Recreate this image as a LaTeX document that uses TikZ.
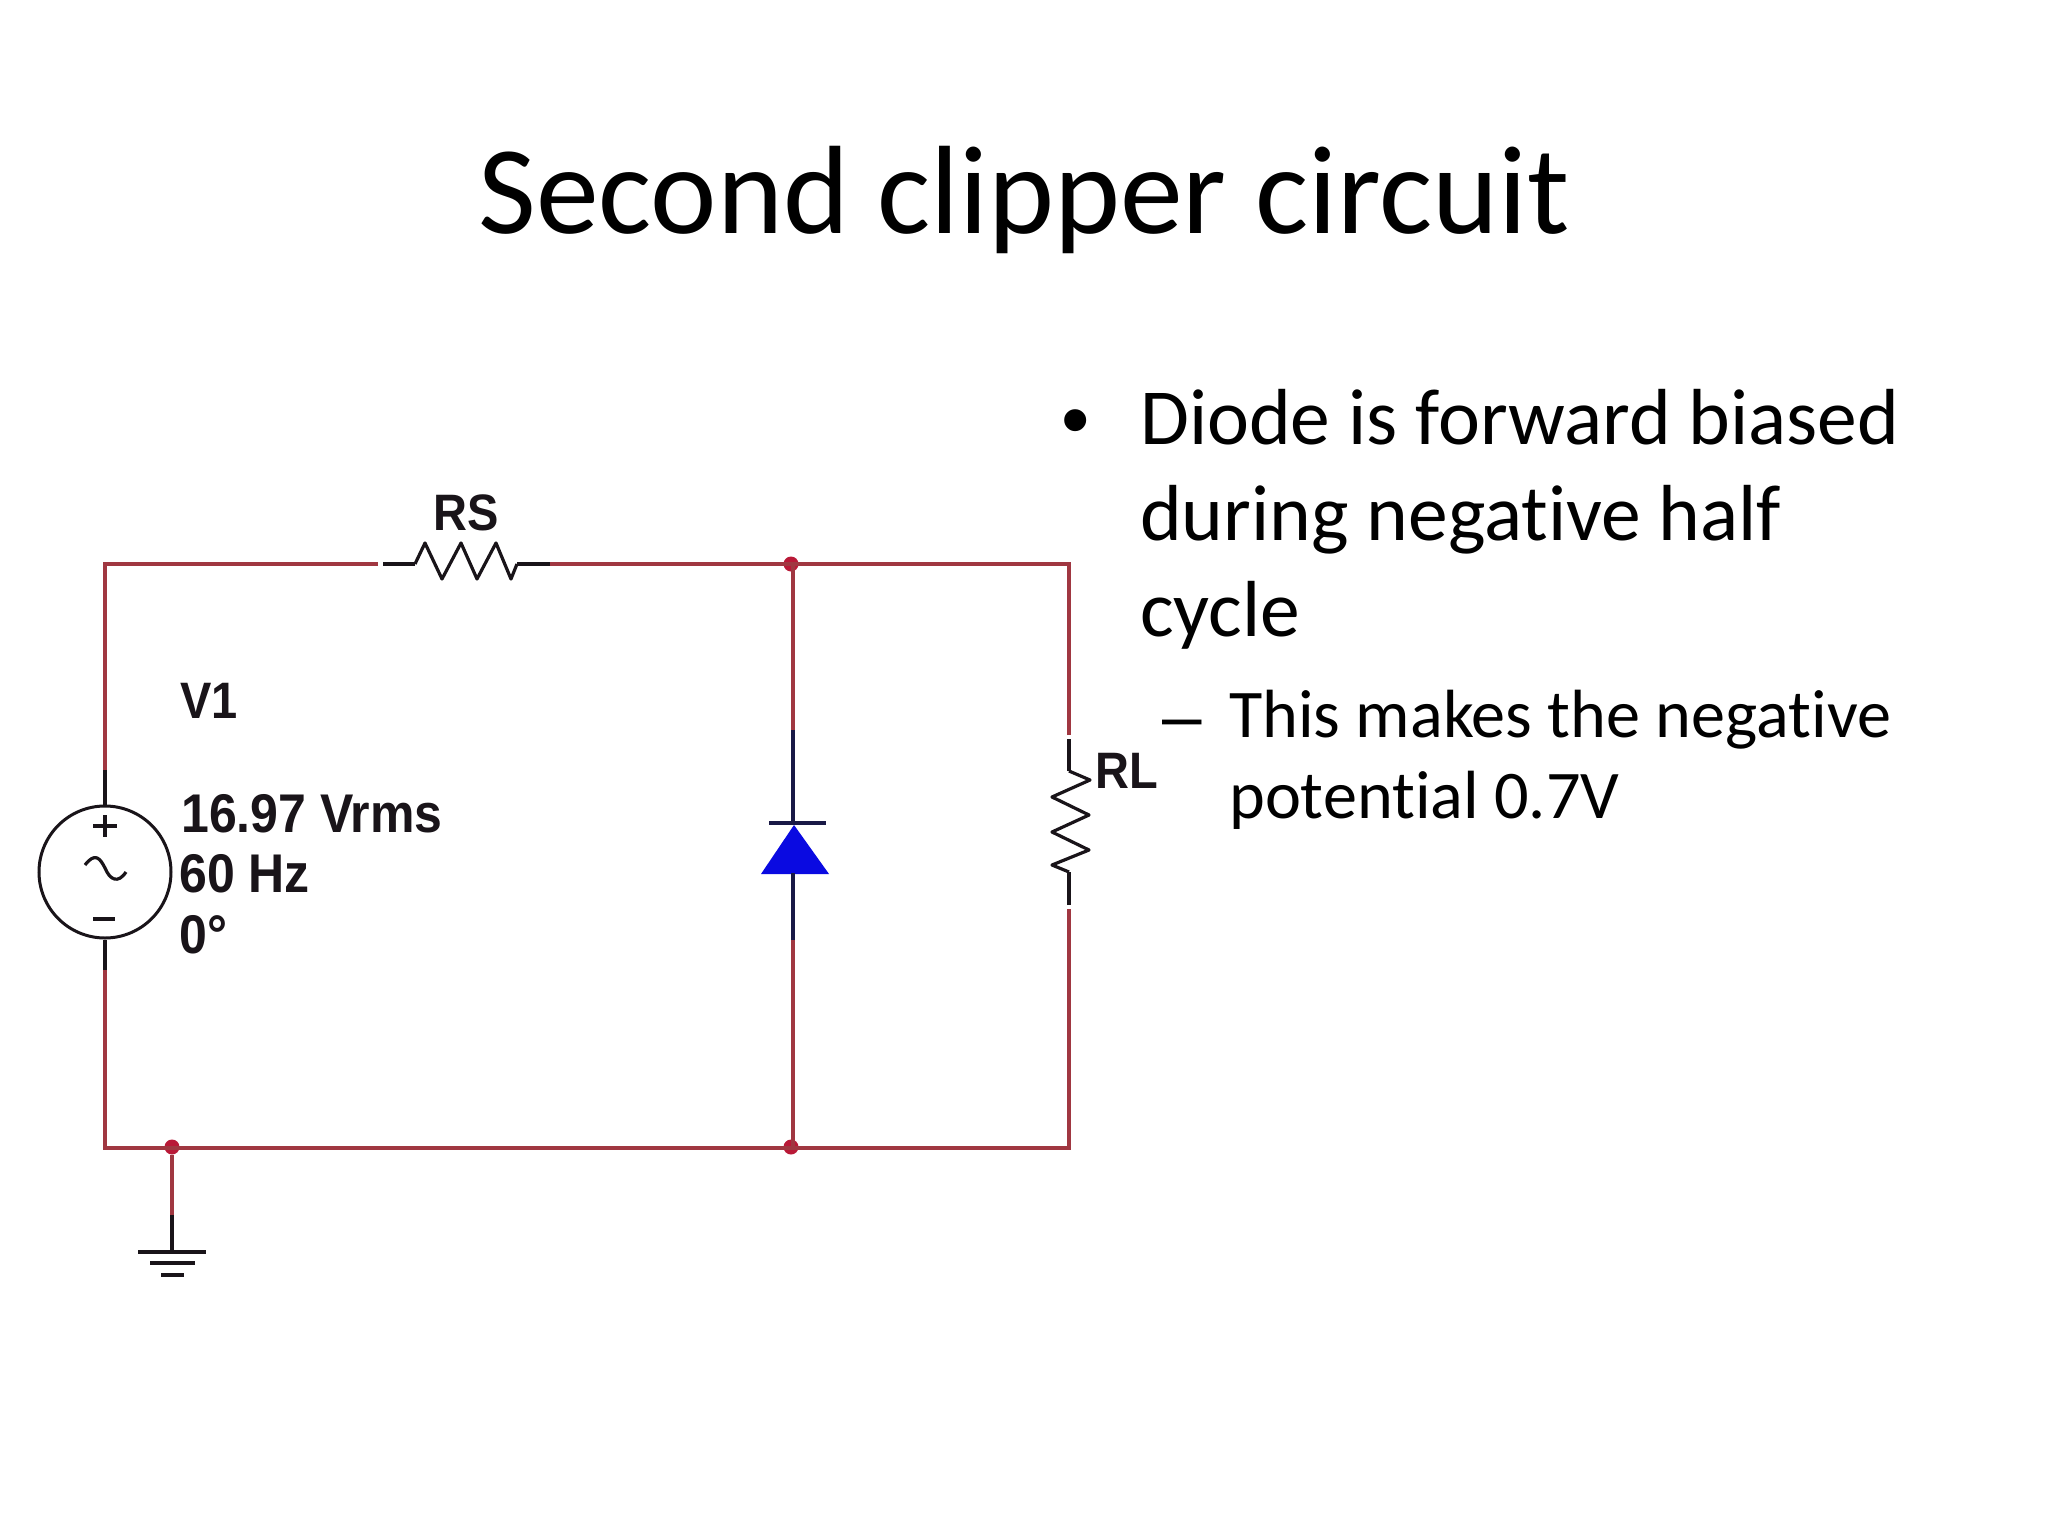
\documentclass[tikz,border=0pt]{standalone}
\usepackage{fontspec}
\usepackage{graphicx}
\setmainfont{Carlito}[Ligatures=NoCommon]
\newfontfamily\schem{Liberation Sans}
\newcommand{\tallbox}[1]{\scalebox{1}[1.09]{#1}}
\definecolor{wirered}{RGB}{160,55,65}
\definecolor{wireblk}{RGB}{25,20,25}
\definecolor{diodeblue}{RGB}{10,10,225}
\definecolor{diodewire}{RGB}{25,25,70}
\definecolor{junction}{RGB}{185,25,55}
\tikzset{
  wire/.style={draw=wirered,line width=3.2pt,line join=miter},
  lead/.style={draw=wireblk,line width=3.4pt},
  dwire/.style={draw=diodewire,line width=3.4pt},
  zig/.style={draw=wireblk,line width=3.2pt,line join=round},
  dot/.style={circle,fill=junction,inner sep=0pt,minimum size=15pt},
  slidetext/.style={inner sep=0pt,anchor=base west,text=black},
  title/.style={inner sep=0pt,anchor=base,font=\fontsize{125.7}{125.7}\selectfont},
  main/.style={slidetext,font=\fontsize{79.5}{79.5}\selectfont},
  sub/.style={slidetext,font=\fontsize{68.2}{68.2}\selectfont},
  markfont/.style={slidetext,font=\schem\fontsize{81}{81}\selectfont},
  schemlabel/.style={inner sep=0pt,anchor=base west,text=wireblk,font=\schem\bfseries\fontsize{47}{47}\selectfont},
  schemvalue/.style={schemlabel,font=\schem\bfseries\fontsize{50}{50}\selectfont},
  source/.style={circle,draw=wireblk,line width=3pt,inner sep=0pt,minimum size=132pt},
}
\begin{document}
\begin{tikzpicture}[x=1pt,y=-1pt]
\useasboundingbox[fill=white] (0,0) rectangle (2048,1536);
% title and bullets
\node[title] (ttl) at (1024,233) {Second clipper circuit};
\node[markfont] (b1) at (1061,447) {•};
\node[main] (l1) at (1140,444) {Diode is forward biased};
\node[main] (l2) at (1140,540) {during negative half};
\node[main] (l3) at (1140,636) {cycle};
\node[markfont,font=\schem\fontsize{71}{71}\selectfont] (d1) at (1162,740) {–};
\node[sub] (s1) at (1229,737) {This makes the negative};
\node[sub] (s2) at (1229,818) {potential 0.7V};
% corners and wire ends
\coordinate (tl) at (105,564);
\coordinate (bl) at (105,1148);
\coordinate (tr) at (1069,564);
\coordinate (br) at (1069,1148);
\coordinate (vtop) at (105,770);
\coordinate (vbot) at (105,970);
\coordinate (rsa) at (378,564);
\coordinate (rsb) at (383,564);
\coordinate (rsc) at (415,564);
\coordinate (rsd) at (517,564);
\coordinate (rse) at (550,564);
\coordinate (rla) at (1069,735);
\coordinate (rlb) at (1069,739);
\coordinate (rlc) at (1069,771);
\coordinate (rld) at (1069,872);
\coordinate (rle) at (1069,905);
\coordinate (rlf) at (1069,909);
\coordinate (da) at (793,730);
\coordinate (dk) at (793,823);
\coordinate (db) at (793,873);
\coordinate (dc) at (793,940);
\coordinate (gnda) at (172,1215);
\coordinate (gndb) at (172,1252);
% junctions
\node[dot] (j1) at (791,564) {};
\node[dot] (j2) at (791,1147) {};
\node[dot] (j3) at (172,1147) {};
% source
\node[source] (v1) at (105,872) {};
\draw[wire] (rsa) -- (tl) -- (vtop);
\draw[lead] (vtop) -- (v1.north);
\draw[lead] (v1.south) -- (vbot);
\draw[wire] (vbot) -- (bl) -- (br) -- (rlf);
\draw[lead] (rle) -- (rld);
\draw[zig] (rld) -- (1052,865) -- (1089,850) -- (1052,832) -- (1089,815) -- (1052,797) -- (1090,780) -- (rlc);
\draw[lead] (rlc) -- (rlb);
\draw[wire] (rla) -- (tr) -- (rse);
\draw[lead] (rse) -- (rsd);
\draw[zig] (rsd) -- (511,579) -- (496,543) -- (477,579) -- (461,543) -- (442,579) -- (425,543) -- (rsc);
\draw[lead] (rsc) -- (rsb);
% diode branch
\draw[wire] (da |- j1) -- (da);
\draw[dwire] (da) -- (dk);
\draw[dwire] (769,823) -- (826,823);
\fill[diodeblue] (794,825) -- (829,874) -- (761,874) -- cycle;
\draw[dwire] (db) -- (dc);
\draw[wire] (dc) -- (dc |- j2);
% ground
\draw[wire] (j3) -- (gnda);
\draw[lead] (gnda) -- (gndb);
\draw[lead] (138,1252) -- (206,1252);
\draw[lead] (150,1263) -- (195,1263);
\draw[lead] (161,1275) -- (184,1275);
% source symbols
\draw[zig] (93,826) -- (117,826);
\draw[zig] (105,815) -- (105,837);
\draw[zig] (93,919) -- (115,919);
\draw[zig] (85,865) .. controls (95,852) and (100,858) .. (105,868) .. controls (110,880) and (118,884) .. (126,872);
% schematic labels
\node[schemlabel] (lv1) at (180,718) {\tallbox{V1}};
\node[schemvalue] (lv) at (181,832) {\tallbox{16.97 Vrms}};
\node[schemvalue] (lf) at (179,892) {\tallbox{60 Hz}};
\node[schemvalue] (lp) at (179,953) {\tallbox{0°}};
\node[schemlabel] (lrs) at (433,530) {\tallbox{RS}};
\node[schemlabel] (lrl) at (1095,788) {\tallbox{RL}};
\end{tikzpicture}
\end{document}
